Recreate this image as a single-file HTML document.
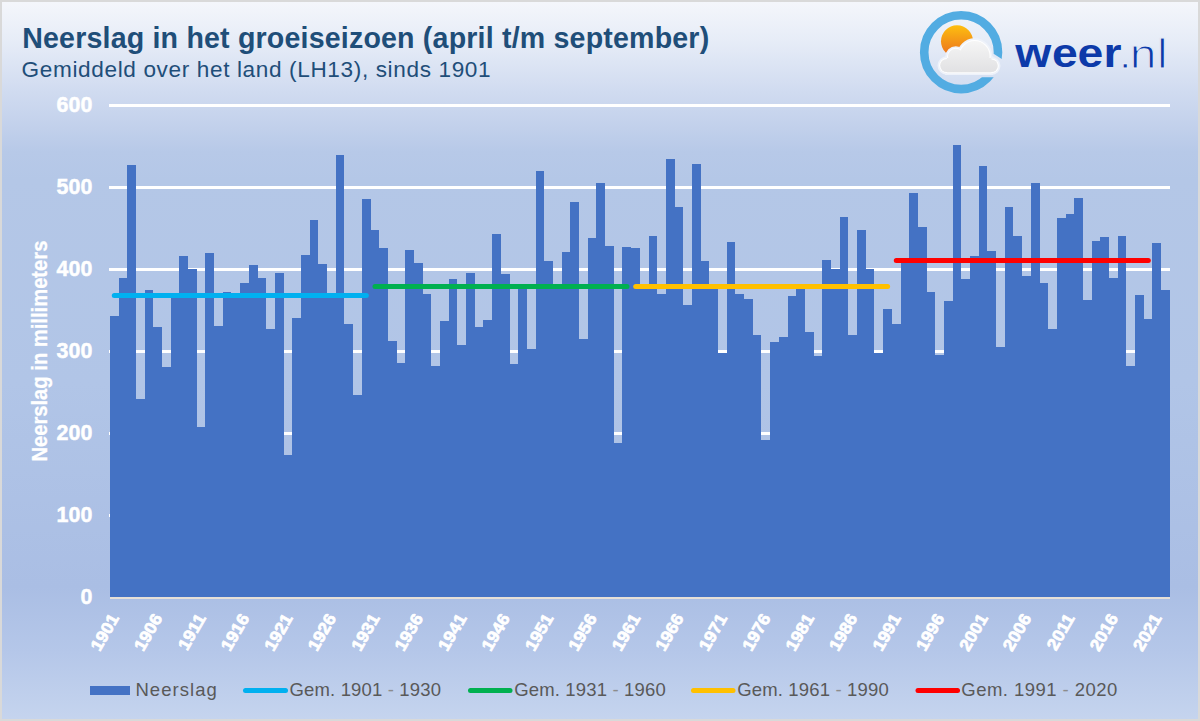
<!DOCTYPE html>
<html><head><meta charset="utf-8"><style>
html,body{margin:0;padding:0;}
body{width:1200px;height:721px;overflow:hidden;position:relative;background:#d9d9d9;}
#bg{position:absolute;left:2px;top:2px;width:1196px;height:717px;background:linear-gradient(180deg,#f4f6fb 0px,#e6ecf7 40px,#d0dbf0 90px,#c4d2ec 120px,#b7c9e8 150px,#b4c7e7 178px,#b1c5e7 380px,#aabee4 585px,#b5c7e9 650px,#c5d4ee 717px);}
svg{position:absolute;left:0;top:0;}
text{font-family:"Liberation Sans",sans-serif;}
</style></head><body>
<div id="bg"></div>
<svg width="1200" height="721" viewBox="0 0 1200 721">
<defs>
<linearGradient id="sun" gradientUnits="userSpaceOnUse" x1="0" y1="26" x2="0" y2="52"><stop offset="0" stop-color="#fdbd10"/><stop offset="1" stop-color="#ed7a1d"/></linearGradient>
<linearGradient id="cld" gradientUnits="userSpaceOnUse" x1="0" y1="40" x2="0" y2="74"><stop offset="0" stop-color="#f6f6f6"/><stop offset="1" stop-color="#e0e0e2"/></linearGradient>
<clipPath id="ringclip"><path d="M 900 0 H 1020 V 110 H 900 Z M 985 48.2 L 975 77.2 L 1015 77.2 L 1015 67.5 Z" clip-rule="evenodd"/></clipPath>
</defs>
<text x="22.2" y="47.7" font-size="28.6" font-weight="bold" fill="#1f4e79" text-anchor="start" textLength="687" lengthAdjust="spacing">Neerslag in het groeiseizoen (april t/m september)</text><text x="21.6" y="76.6" font-size="22.6" font-weight="normal" fill="#1f4e79" text-anchor="start" textLength="469" lengthAdjust="spacing">Gemiddeld over het land (LH13), sinds 1901</text><text x="135.4" y="695.8" font-size="18.5" font-weight="normal" fill="#595959" text-anchor="start" textLength="81.5" lengthAdjust="spacing">Neerslag</text><text x="289.5" y="695.8" font-size="18.5" font-weight="normal" fill="#595959" text-anchor="start" textLength="151.5" lengthAdjust="spacing">Gem. 1901 <tspan fill='#8c8c8c'>-</tspan> 1930</text><text x="514.2" y="695.8" font-size="18.5" font-weight="normal" fill="#595959" text-anchor="start" textLength="151.5" lengthAdjust="spacing">Gem. 1931 <tspan fill='#8c8c8c'>-</tspan> 1960</text><text x="737.2" y="695.8" font-size="18.5" font-weight="normal" fill="#595959" text-anchor="start" textLength="151.5" lengthAdjust="spacing">Gem. 1961 <tspan fill='#8c8c8c'>-</tspan> 1990</text><text x="961.3" y="695.8" font-size="18.5" font-weight="normal" fill="#595959" text-anchor="start" textLength="156" lengthAdjust="spacing">Gem. 1991 <tspan fill='#8c8c8c'>-</tspan> 2020</text>
<g fill="#ffffff" shape-rendering="crispEdges"><rect x="109" y="514.0" width="1061" height="3"/><rect x="109" y="432.0" width="1061" height="3"/><rect x="109" y="350.0" width="1061" height="3"/><rect x="109" y="268.0" width="1061" height="3"/><rect x="109" y="186.0" width="1061" height="3"/><rect x="109" y="104.0" width="1061" height="3"/></g>
<g fill="#4472c4" shape-rendering="crispEdges"><rect x="110" y="316" width="9" height="281"/><rect x="119" y="278" width="8" height="319"/><rect x="127" y="165" width="9" height="432"/><rect x="136" y="399" width="9" height="198"/><rect x="145" y="290" width="8" height="307"/><rect x="153" y="327" width="9" height="270"/><rect x="162" y="367" width="9" height="230"/><rect x="171" y="296" width="8" height="301"/><rect x="179" y="256" width="9" height="341"/><rect x="188" y="269" width="9" height="328"/><rect x="197" y="427" width="8" height="170"/><rect x="205" y="253" width="9" height="344"/><rect x="214" y="326" width="9" height="271"/><rect x="223" y="292" width="8" height="305"/><rect x="231" y="296" width="9" height="301"/><rect x="240" y="283" width="9" height="314"/><rect x="249" y="265" width="9" height="332"/><rect x="258" y="278" width="8" height="319"/><rect x="266" y="329" width="9" height="268"/><rect x="275" y="273" width="9" height="324"/><rect x="284" y="455" width="8" height="142"/><rect x="292" y="318" width="9" height="279"/><rect x="301" y="255" width="9" height="342"/><rect x="310" y="220" width="8" height="377"/><rect x="318" y="264" width="9" height="333"/><rect x="327" y="296" width="9" height="301"/><rect x="336" y="155" width="8" height="442"/><rect x="344" y="324" width="9" height="273"/><rect x="353" y="395" width="9" height="202"/><rect x="362" y="199" width="9" height="398"/><rect x="371" y="230" width="8" height="367"/><rect x="379" y="248" width="9" height="349"/><rect x="388" y="341" width="9" height="256"/><rect x="397" y="363" width="8" height="234"/><rect x="405" y="250" width="9" height="347"/><rect x="414" y="263" width="9" height="334"/><rect x="423" y="294" width="8" height="303"/><rect x="431" y="366" width="9" height="231"/><rect x="440" y="321" width="9" height="276"/><rect x="449" y="279" width="8" height="318"/><rect x="457" y="345" width="9" height="252"/><rect x="466" y="273" width="9" height="324"/><rect x="475" y="327" width="8" height="270"/><rect x="483" y="320" width="9" height="277"/><rect x="492" y="234" width="9" height="363"/><rect x="501" y="274" width="9" height="323"/><rect x="510" y="364" width="8" height="233"/><rect x="518" y="288" width="9" height="309"/><rect x="527" y="349" width="9" height="248"/><rect x="536" y="171" width="8" height="426"/><rect x="544" y="261" width="9" height="336"/><rect x="553" y="287" width="9" height="310"/><rect x="562" y="252" width="8" height="345"/><rect x="570" y="202" width="9" height="395"/><rect x="579" y="339" width="9" height="258"/><rect x="588" y="238" width="8" height="359"/><rect x="596" y="183" width="9" height="414"/><rect x="605" y="246" width="9" height="351"/><rect x="614" y="443" width="8" height="154"/><rect x="622" y="247" width="9" height="350"/><rect x="631" y="248" width="9" height="349"/><rect x="640" y="286" width="9" height="311"/><rect x="649" y="236" width="8" height="361"/><rect x="657" y="294" width="9" height="303"/><rect x="666" y="159" width="9" height="438"/><rect x="675" y="207" width="8" height="390"/><rect x="683" y="305" width="9" height="292"/><rect x="692" y="164" width="9" height="433"/><rect x="701" y="261" width="8" height="336"/><rect x="709" y="286" width="9" height="311"/><rect x="718" y="353" width="9" height="244"/><rect x="727" y="242" width="8" height="355"/><rect x="735" y="294" width="9" height="303"/><rect x="744" y="299" width="9" height="298"/><rect x="753" y="335" width="8" height="262"/><rect x="761" y="440" width="9" height="157"/><rect x="770" y="342" width="9" height="255"/><rect x="779" y="337" width="9" height="260"/><rect x="788" y="296" width="8" height="301"/><rect x="796" y="289" width="9" height="308"/><rect x="805" y="332" width="9" height="265"/><rect x="814" y="356" width="8" height="241"/><rect x="822" y="260" width="9" height="337"/><rect x="831" y="269" width="9" height="328"/><rect x="840" y="217" width="8" height="380"/><rect x="848" y="335" width="9" height="262"/><rect x="857" y="230" width="9" height="367"/><rect x="866" y="269" width="8" height="328"/><rect x="874" y="353" width="9" height="244"/><rect x="883" y="309" width="9" height="288"/><rect x="892" y="324" width="9" height="273"/><rect x="901" y="260" width="8" height="337"/><rect x="909" y="193" width="9" height="404"/><rect x="918" y="227" width="9" height="370"/><rect x="927" y="292" width="8" height="305"/><rect x="935" y="355" width="9" height="242"/><rect x="944" y="301" width="9" height="296"/><rect x="953" y="145" width="8" height="452"/><rect x="961" y="279" width="9" height="318"/><rect x="970" y="256" width="9" height="341"/><rect x="979" y="166" width="8" height="431"/><rect x="987" y="251" width="9" height="346"/><rect x="996" y="347" width="9" height="250"/><rect x="1005" y="207" width="8" height="390"/><rect x="1013" y="236" width="9" height="361"/><rect x="1022" y="276" width="9" height="321"/><rect x="1031" y="183" width="9" height="414"/><rect x="1040" y="283" width="8" height="314"/><rect x="1048" y="329" width="9" height="268"/><rect x="1057" y="218" width="9" height="379"/><rect x="1066" y="214" width="8" height="383"/><rect x="1074" y="198" width="9" height="399"/><rect x="1083" y="300" width="9" height="297"/><rect x="1092" y="241" width="8" height="356"/><rect x="1100" y="237" width="9" height="360"/><rect x="1109" y="278" width="9" height="319"/><rect x="1118" y="236" width="8" height="361"/><rect x="1126" y="366" width="9" height="231"/><rect x="1135" y="295" width="9" height="302"/><rect x="1144" y="319" width="8" height="278"/><rect x="1152" y="243" width="9" height="354"/><rect x="1161" y="290" width="9" height="307"/></g>
<rect x="110" y="597" width="1060" height="2" fill="#e6e0d8" shape-rendering="crispEdges"/>
<line x1="114.3" y1="295.5" x2="366.3" y2="295.5" stroke="#00b0f0" stroke-width="5" stroke-linecap="round"/><line x1="375.0" y1="286.5" x2="627.0" y2="286.5" stroke="#00b050" stroke-width="5" stroke-linecap="round"/><line x1="635.7" y1="286.6" x2="887.6" y2="286.6" stroke="#ffc000" stroke-width="5" stroke-linecap="round"/><line x1="896.3" y1="260.4" x2="1148.3" y2="260.4" stroke="#ff0000" stroke-width="5" stroke-linecap="round"/>
<g font-weight="bold" font-size="21.4" fill="#ffffff" stroke="#ffffff" stroke-width="0.5"><text x="92.3" y="603.6" text-anchor="end">0</text><text x="92.3" y="521.6" text-anchor="end">100</text><text x="92.3" y="439.6" text-anchor="end">200</text><text x="92.3" y="357.6" text-anchor="end">300</text><text x="92.3" y="275.6" text-anchor="end">400</text><text x="92.3" y="193.6" text-anchor="end">500</text><text x="92.3" y="111.6" text-anchor="end">600</text></g>
<g font-weight="bold" font-size="16.8" fill="#ffffff" stroke="#ffffff" stroke-width="0.7"><text transform="translate(114.34,615) rotate(-60) scale(1.06,1)" y="6.0" text-anchor="end">1901</text><text transform="translate(157.79,615) rotate(-60) scale(1.06,1)" y="6.0" text-anchor="end">1906</text><text transform="translate(201.23,615) rotate(-60) scale(1.06,1)" y="6.0" text-anchor="end">1911</text><text transform="translate(244.67,615) rotate(-60) scale(1.06,1)" y="6.0" text-anchor="end">1916</text><text transform="translate(288.11,615) rotate(-60) scale(1.06,1)" y="6.0" text-anchor="end">1921</text><text transform="translate(331.56,615) rotate(-60) scale(1.06,1)" y="6.0" text-anchor="end">1926</text><text transform="translate(375.00,615) rotate(-60) scale(1.06,1)" y="6.0" text-anchor="end">1931</text><text transform="translate(418.44,615) rotate(-60) scale(1.06,1)" y="6.0" text-anchor="end">1936</text><text transform="translate(461.88,615) rotate(-60) scale(1.06,1)" y="6.0" text-anchor="end">1941</text><text transform="translate(505.33,615) rotate(-60) scale(1.06,1)" y="6.0" text-anchor="end">1946</text><text transform="translate(548.77,615) rotate(-60) scale(1.06,1)" y="6.0" text-anchor="end">1951</text><text transform="translate(592.21,615) rotate(-60) scale(1.06,1)" y="6.0" text-anchor="end">1956</text><text transform="translate(635.65,615) rotate(-60) scale(1.06,1)" y="6.0" text-anchor="end">1961</text><text transform="translate(679.10,615) rotate(-60) scale(1.06,1)" y="6.0" text-anchor="end">1966</text><text transform="translate(722.54,615) rotate(-60) scale(1.06,1)" y="6.0" text-anchor="end">1971</text><text transform="translate(765.98,615) rotate(-60) scale(1.06,1)" y="6.0" text-anchor="end">1976</text><text transform="translate(809.42,615) rotate(-60) scale(1.06,1)" y="6.0" text-anchor="end">1981</text><text transform="translate(852.87,615) rotate(-60) scale(1.06,1)" y="6.0" text-anchor="end">1986</text><text transform="translate(896.31,615) rotate(-60) scale(1.06,1)" y="6.0" text-anchor="end">1991</text><text transform="translate(939.75,615) rotate(-60) scale(1.06,1)" y="6.0" text-anchor="end">1996</text><text transform="translate(983.19,615) rotate(-60) scale(1.06,1)" y="6.0" text-anchor="end">2001</text><text transform="translate(1026.64,615) rotate(-60) scale(1.06,1)" y="6.0" text-anchor="end">2006</text><text transform="translate(1070.08,615) rotate(-60) scale(1.06,1)" y="6.0" text-anchor="end">2011</text><text transform="translate(1113.52,615) rotate(-60) scale(1.06,1)" y="6.0" text-anchor="end">2016</text><text transform="translate(1156.96,615) rotate(-60) scale(1.06,1)" y="6.0" text-anchor="end">2021</text></g>
<text transform="translate(47.4,351.1) rotate(-90)" text-anchor="middle" font-weight="bold" font-size="22" fill="#ffffff" stroke="#ffffff" stroke-width="0.3" textLength="221" lengthAdjust="spacingAndGlyphs">Neerslag in millimeters</text>
<!-- legend -->
<rect x="90" y="686" width="40" height="9" fill="#4472c4"/>
<line x1="245.5" y1="690.5" x2="285.5" y2="690.5" stroke="#00b0f0" stroke-width="5" stroke-linecap="round"/>
<line x1="470.5" y1="690.5" x2="510" y2="690.5" stroke="#00b050" stroke-width="5" stroke-linecap="round"/>
<line x1="693.5" y1="690.5" x2="733" y2="690.5" stroke="#ffc000" stroke-width="5" stroke-linecap="round"/>
<line x1="918" y1="690.5" x2="957.5" y2="690.5" stroke="#ff0000" stroke-width="5" stroke-linecap="round"/>
<!-- logo -->
<circle cx="961.1" cy="52.2" r="36.9" fill="none" stroke="#52ace2" stroke-width="8.6" clip-path="url(#ringclip)"/>
<circle cx="957" cy="41.2" r="16" fill="url(#sun)"/>
<g fill="#eff3fa" stroke="#eef2fa" stroke-width="3.4"><circle cx="946.8" cy="65.5" r="7.6"/><circle cx="955.8" cy="56.6" r="8.75"/><circle cx="974.6" cy="56" r="16"/><circle cx="991.5" cy="65.8" r="7.3"/><rect x="946.8" y="58" width="44.7" height="15.3"/></g>
<g fill="#ffffff"><circle cx="946.8" cy="65.5" r="7.6"/><circle cx="955.8" cy="56.6" r="8.75"/><circle cx="974.6" cy="56" r="16"/><circle cx="991.5" cy="65.8" r="7.3"/><rect x="946.8" y="58" width="44.7" height="15.3"/></g>
<g fill="url(#cld)"><circle cx="946.8" cy="65.5" r="6.6"/><circle cx="955.8" cy="56.6" r="7.75"/><circle cx="974.6" cy="56" r="15"/><circle cx="991.5" cy="65.8" r="6.3"/><rect x="946.8" y="58" width="44.7" height="14.3"/></g>
<g font-size="41" fill="#0d3aa9">
<text font-weight="bold" transform="scale(1.13,1)" x="898.50 931.06 953.45 976.55" y="67.1">weer</text>
<text transform="scale(1.17,1)" stroke="#e3e9f5" stroke-width="1.1" x="956.07 965.64 988.97" y="67.6">.nl</text>
</g>
</svg>
</body></html>
